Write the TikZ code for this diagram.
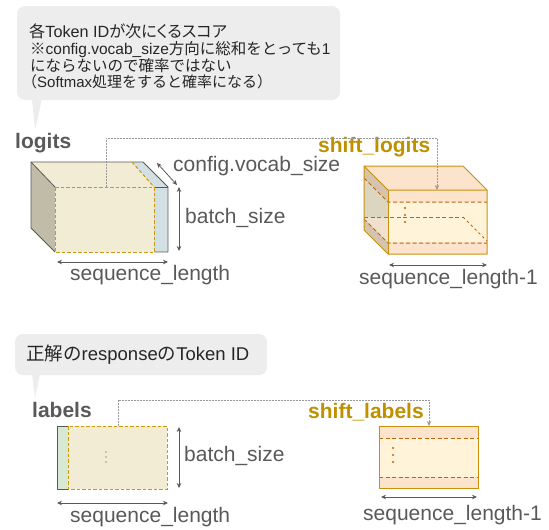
\documentclass[tikz,border=0pt]{standalone}
\usepackage{fontspec}
\setmainfont{Liberation Sans}
\newfontfamily\jp{Noto Sans CJK JP}
\newfontfamily\jpp[RawFeature=+palt]{Noto Sans CJK JP}
\usetikzlibrary{arrows.meta}
\definecolor{txtgray}{HTML}{595959}
\definecolor{bubblegray}{HTML}{EDEDED}
\definecolor{bubbletxt}{HTML}{262626}
\definecolor{goldtxt}{HTML}{BF9000}
\definecolor{cubeyellow}{HTML}{F2ECD4}
\definecolor{cubeolive}{HTML}{C0BCA7}
\definecolor{cubeblue}{HTML}{D2E0E4}
\definecolor{edgegray}{HTML}{595959}
\definecolor{dashgold}{HTML}{C99A0A}
\definecolor{orangeedge}{HTML}{C8900E}
\definecolor{orangedash}{HTML}{C0650C}
\definecolor{peach}{HTML}{FCE4CC}
\definecolor{cream}{HTML}{FFF3DA}
\definecolor{tan}{HTML}{D4C3AD}
\definecolor{grayface}{HTML}{DCD6C1}
\definecolor{lightface}{HTML}{F0E1CF}
\definecolor{labgreen}{HTML}{D9E8D2}
\definecolor{conngray}{HTML}{999999}
\begin{document}
\begin{tikzpicture}[x=1pt,y=-1pt,
  lbl/.style={text=txtgray, font=\fontsize{21}{24}\selectfont, inner sep=0pt, anchor=west},
  ttl/.style={font=\bfseries\fontsize{21}{24}\selectfont, inner sep=0pt, anchor=west},
  btxt/.style={text=bubbletxt, inner sep=0pt, anchor=west},
  dimarrow/.style={draw=txtgray, line width=0.8pt, {Stealth[length=5pt,width=4.5pt]}-{Stealth[length=5pt,width=4.5pt]}},
  conn/.style={draw=conngray, line width=0.7pt, dash pattern=on 1.6pt off 1.4pt, -{Stealth[length=5pt,width=4.5pt]}},
  graysolid/.style={draw=edgegray, line width=0.8pt, line join=round},
  golddash/.style={draw=dashgold, line width=1pt, dash pattern=on 3.5pt off 2pt},
  orsolid/.style={draw=orangeedge, line width=1pt, line join=round},
  ordash/.style={draw=orangedash, line width=1pt, dash pattern=on 4pt off 2.5pt},
  bubble/.style={fill=bubblegray, rounded corners=8pt}
]
\useasboundingbox (0,0) rectangle (549,530);

% ---------- bubble 1 ----------
\fill[bubble] (17,6) rectangle (340,100);
\fill[bubblegray] (32,99) -- (42,99) -- (35,130) -- cycle;
\node[btxt, font=\fontsize{16.2}{20}\selectfont] (b1l1) at (29,31) {{\jpp 各}Token ID{\jpp が次にくるスコア}};
\node[btxt, font=\fontsize{15.5}{18}\selectfont] (b1l2) at (30,50) {{\jp ※}config.vocab\_size{\jp 方向に総和をとっても}1};
\node[btxt, font=\fontsize{15.5}{18}\selectfont] (b1l3) at (30,66) {{\jp にならないので確率ではない}};
\node[btxt, font=\fontsize{15}{18}\selectfont] (b1l4) at (22,82) {{\jp （}Softmax{\jp 処理をすると確率になる）}};

% ---------- bubble 2 ----------
\fill[bubble] (15,334) rectangle (267,375);
\fill[bubblegray] (32,374) -- (40,374) -- (35,398) -- cycle;
\node[btxt, font=\fontsize{18.5}{21}\selectfont] (b2) at (26,355) {{\jp 正解の}response{\jp の}Token ID};

% ---------- logits cube ----------
\fill[cubeblue] (31,162) -- (143,162) -- (168,187) -- (55,187) -- cycle;
\fill[cubeblue] (55,187) rectangle (168,252);
\fill[cubeolive] (31,162) -- (55,187) -- (55,252) -- (31,228) -- cycle;
\fill[cubeyellow] (31,162) -- (132,162) -- (154,187) -- (55,187) -- cycle;
\fill[cubeyellow] (55,187) rectangle (154,252);
\draw[graysolid] (154,252) -- (168,252) -- (168,187) -- (143,162) -- (31,162) -- (31,228) -- (55,252);
\draw[graysolid] (154,187) -- (168,187);
\draw[graysolid] (31,162) -- (55,187);
\draw[golddash] (132,162) -- (154,187);
\draw[golddash] (55,187) rectangle (154,252);
\coordinate (lgtop) at (106,187);

% ---------- shift_logits cube ----------
\fill[peach] (364,166) -- (463,166) -- (487,190) -- (388,190) -- cycle;
\fill[peach] (388,190) rectangle (487,254);
\fill[cream] (388,202) rectangle (487,242);
\fill[lightface] (364,166) -- (388,190) -- (388,254) -- (364,230) -- cycle;
\fill[tan] (364,166) -- (388,190) -- (388,202) -- (364,178) -- cycle;
\fill[grayface] (364,178) -- (388,202) -- (388,217) -- (364,217) -- cycle;
\fill[tan] (364,219) -- (388,243) -- (388,254) -- (364,230) -- cycle;
\draw[ordash] (364,178) -- (388,202) -- (487,202);
\draw[ordash] (364,217) -- (463,217);
\draw[ordash, dash pattern=on 2.5pt off 3pt] (463,217) -- (487,241);
\draw[ordash] (364,219) -- (388,243) -- (487,243);
\draw[orsolid] (364,166) -- (463,166) -- (487,190) -- (487,254) -- (388,254) -- (364,230) -- cycle;
\draw[orsolid] (364,166) -- (388,190) -- (487,190);
\draw[orsolid] (388,190) -- (388,254);
\foreach \yy in {208,215,222} \fill[orangedash] (405,\yy) circle (1.2pt);
\coordinate (sltop) at (437,190);

% ---------- labels rect ----------
\fill[labgreen] (57,426) rectangle (68,489);
\fill[cubeyellow] (68,426) rectangle (167,489);
\draw[graysolid] (68,426) -- (57,426) -- (57,489) -- (68,489);
\draw[golddash] (68,426) rectangle (167,489);
\foreach \yy in {452,457,462} \fill[conngray] (106,\yy) circle (0.9pt);
\coordinate (lbtop) at (118,426);

% ---------- shift_labels rect ----------
\fill[peach] (379,426) rectangle (478,488);
\fill[cream] (379,438) rectangle (478,477);
\draw[ordash] (379,438) -- (478,438);
\draw[ordash] (379,477) -- (478,477);
\draw[orsolid] (379,426) rectangle (478,488);
\foreach \yy in {448,455,462} \fill[orangedash] (393,\yy) circle (1.2pt);
\coordinate (sbtop) at (429,426);

% ---------- titles ----------
\node[ttl, text=txtgray] (tlogits) at (15,143) {logits};
\node[ttl, text=goldtxt] (tshiftlogits) at (318,147) {shift\_logits};
\node[ttl, text=txtgray] (tlabels) at (32,410) {labels};
\node[ttl, text=goldtxt] (tshiftlabels) at (308,412) {shift\_labels};

% ---------- dimension arrows ----------
\coordinate (v1) at (157,163); \coordinate (v2) at (177,185);
\coordinate (b1) at (179,187); \coordinate (b2) at (179,251);
\coordinate (s1) at (57,262);  \coordinate (s2) at (168,262);
\coordinate (t1) at (389,265); \coordinate (t2) at (487,265);
\coordinate (lb1) at (179,427); \coordinate (lb2) at (179,488);
\coordinate (ls1) at (57,503);  \coordinate (ls2) at (168,503);
\coordinate (ts1) at (381,497); \coordinate (ts2) at (477,497);
\draw[dimarrow] (v1) -- (v2);
\draw[dimarrow] (b1) -- (b2);
\draw[dimarrow] (s1) -- (s2);
\draw[dimarrow] (t1) -- (t2);
\draw[dimarrow] (lb1) -- (lb2);
\draw[dimarrow] (ls1) -- (ls2);
\draw[dimarrow] (ts1) -- (ts2);

\node[lbl] (lvocab) at (173,166) {config.vocab\_size};
\node[lbl] (lbatch) at (185,218) {batch\_size};
\node[lbl] (lseq) at (70,275) {sequence\_length};
\node[lbl] (lseq1) at (359,279) {sequence\_length-1};
\node[lbl] (lbatch2) at (184,456) {batch\_size};
\node[lbl] (lseq2) at (70,517) {sequence\_length};
\node[lbl] (lseq3) at (363,515) {sequence\_length-1};

% ---------- connectors ----------
\draw[conn] (lgtop) -- (lgtop |- 0,138) -- (sltop |- 0,138) -- (sltop);
\draw[conn] (lbtop) -- (lbtop |- 0,400) -- (sbtop |- 0,400) -- (sbtop);
\end{tikzpicture}
\end{document}
